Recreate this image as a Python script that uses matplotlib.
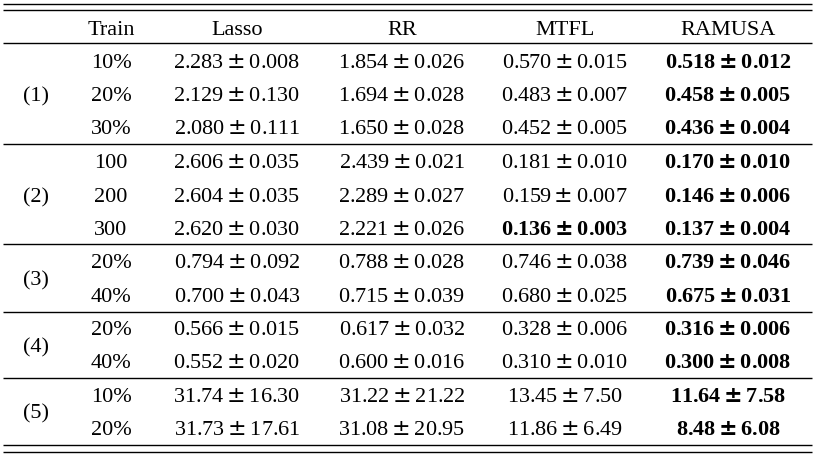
import matplotlib
matplotlib.use("Agg")
import matplotlib.pyplot as plt

plt.rcParams["font.family"] = ["Liberation Serif", "DejaVu Serif"]
plt.rcParams["mathtext.fontset"] = "custom"
plt.rcParams["mathtext.rm"] = "Liberation Serif"
plt.rcParams["mathtext.bf"] = "Liberation Serif:bold"
# wider plus-minus sign, closer to the TeX one
plt.rcParams["mathtext.sf"] = "DejaVu Serif"
plt.rcParams["mathtext.tt"] = "DejaVu Serif:bold"

headers = ["", "Train", "Lasso", "RR", "MTFL", "RAMUSA"]
groups = ["(1)", "(2)", "(3)", "(4)", "(5)"]
group_sizes = [3, 3, 2, 2, 2]
train = ["10%", "20%", "30%", "100", "200", "300",
         "20%", "40%", "20%", "40%", "10%", "20%"]

lasso_mean = [2.283, 2.129, 2.080, 2.606, 2.604, 2.620, 0.794, 0.700, 0.566, 0.552, 31.74, 31.73]
lasso_std = [0.008, 0.130, 0.111, 0.035, 0.035, 0.030, 0.092, 0.043, 0.015, 0.020, 16.30, 17.61]
rr_mean = [1.854, 1.694, 1.650, 2.439, 2.289, 2.221, 0.788, 0.715, 0.617, 0.600, 31.22, 31.08]
rr_std = [0.026, 0.028, 0.028, 0.021, 0.027, 0.026, 0.028, 0.039, 0.032, 0.016, 21.22, 20.95]
mtfl_mean = [0.570, 0.483, 0.452, 0.181, 0.159, 0.136, 0.746, 0.680, 0.328, 0.310, 13.45, 11.86]
mtfl_std = [0.015, 0.007, 0.005, 0.010, 0.007, 0.003, 0.038, 0.025, 0.006, 0.010, 7.50, 6.49]
ramusa_mean = [0.518, 0.458, 0.436, 0.170, 0.146, 0.137, 0.739, 0.675, 0.316, 0.300, 11.64, 8.48]
ramusa_std = [0.012, 0.005, 0.004, 0.010, 0.006, 0.004, 0.046, 0.031, 0.006, 0.008, 7.58, 6.08]
decimals = [3] * 10 + [2] * 2
# (row, table column) cells printed in bold besides the RAMUSA column
bold_extra = [(5, 4)]

col_x = [36, 111, 237, 402, 565, 728]
header_base = 35
row_base = [68, 101, 134.5, 168, 202, 235, 268, 302, 335, 368, 402, 435]
group_base = [101, 202, 285, 352, 418]
group_lines = [144, 244, 312, 378]
FS = 16


def cell(m, s, d, bold):
    a, b = f"{m:.{d}f}", f"{s:.{d}f}"
    if bold:
        return "$\\mathbf{" + a + "}\\,\\mathtt{\\pm}\\,\\mathbf{" + b + "}$"
    return "$\\mathrm{" + a + "}\\,\\mathsf{\\pm}\\,\\mathrm{" + b + "}$"


fig = plt.figure(figsize=(8.15, 4.57), dpi=100)
ax = fig.add_axes([0, 0, 1, 1])
ax.set_xlim(0, 815)
ax.set_ylim(457, 0)
ax.axis("off")

x0, x1 = 3, 812
lw = 1.0
for y in [4, 10, 43] + group_lines + [445, 452]:
    ax.plot([x0, x1], [y, y], color="black", lw=lw, solid_capstyle="butt")

for x, h in zip(col_x, headers):
    ax.text(x, header_base, h, ha="center", va="baseline", fontsize=FS)

for g, yb in zip(groups, group_base):
    ax.text(col_x[0], yb, g, ha="center", va="baseline", fontsize=FS)

columns = [(lasso_mean, lasso_std), (rr_mean, rr_std),
           (mtfl_mean, mtfl_std), (ramusa_mean, ramusa_std)]
for i, yb in enumerate(row_base):
    ax.text(col_x[1], yb, train[i], ha="center", va="baseline", fontsize=FS)
    for j, (means, stds) in enumerate(columns):
        c = j + 2
        bold = c == 5 or (i, c) in bold_extra
        ax.text(col_x[c], yb, cell(means[i], stds[i], decimals[i], bold),
                ha="center", va="baseline", fontsize=FS)

fig.savefig("out.png", dpi=100)
